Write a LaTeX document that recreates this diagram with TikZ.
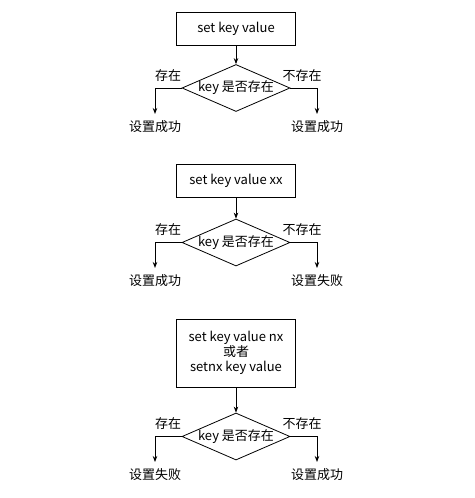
\documentclass[tikz,border=0pt]{standalone}
\usepackage{fontspec}
\setmainfont{Noto Sans CJK SC}
\usetikzlibrary{shapes.geometric,arrows.meta}

\begin{document}
\begin{tikzpicture}[x=1pt,y=-1pt,
    cmd_node/.style={rectangle,draw,line width=0.8pt,minimum width=119pt,minimum height=33pt,align=center,font=\fontsize{13}{15}\selectfont},
    ask_node/.style={diamond,draw,line width=0.8pt,aspect=2.3,minimum width=108pt,minimum height=47pt,inner sep=0pt,font=\fontsize{13}{15}\selectfont},
    res_node/.style={inner sep=0pt,outer sep=7pt,font=\fontsize{13}{15}\selectfont},
    tag_node/.style={inner sep=0pt,font=\fontsize{13}{15}\selectfont},
    line/.style={draw,line width=0.8pt},
    >={Stealth[length=6pt,width=4.5pt]}]
    \useasboundingbox (0,0) rectangle (474,498);

    % set key value
    \node[cmd_node] (c1) at (236,28.5) {set key value};
    \node[ask_node] (q1) at (236,88) {key 是否存在};
    \node[tag_node] (y1) at (168,76) {存在};
    \node[tag_node] (n1) at (302,76) {不存在};
    \node[res_node] (a1) at (155,127) {设置成功};
    \node[res_node] (b1) at (317,127) {设置成功};

    \draw[line,->] (c1) -- (q1);
    \draw[line,->] (q1.west) -| (a1.north);
    \draw[line,->] (q1.east) -| (b1.north);

    % set key value xx
    \node[cmd_node] (c2) at (236,181) {set key value xx};
    \node[ask_node] (q2) at (236,242.5) {key 是否存在};
    \node[tag_node] (y2) at (168,230) {存在};
    \node[tag_node] (n2) at (302,230) {不存在};
    \node[res_node] (a2) at (155,281) {设置成功};
    \node[res_node] (b2) at (317,281) {设置失败};

    \draw[line,->] (c2) -- (q2);
    \draw[line,->] (q2.west) -| (a2.north);
    \draw[line,->] (q2.east) -| (b2.north);

    % set key value nx / setnx key value
    \node[cmd_node,minimum height=68pt] (c3) at (236,353) {set key value nx\\或者\\setnx key value};
    \node[ask_node] (q3) at (236,436.5) {key 是否存在};
    \node[tag_node] (y3) at (168,424) {存在};
    \node[tag_node] (n3) at (302,424) {不存在};
    \node[res_node] (a3) at (155,475) {设置失败};
    \node[res_node] (b3) at (317,475) {设置成功};

    \draw[line,->] (c3) -- (q3);
    \draw[line,->] (q3.west) -| (a3.north);
    \draw[line,->] (q3.east) -| (b3.north);
\end{tikzpicture}
\end{document}
